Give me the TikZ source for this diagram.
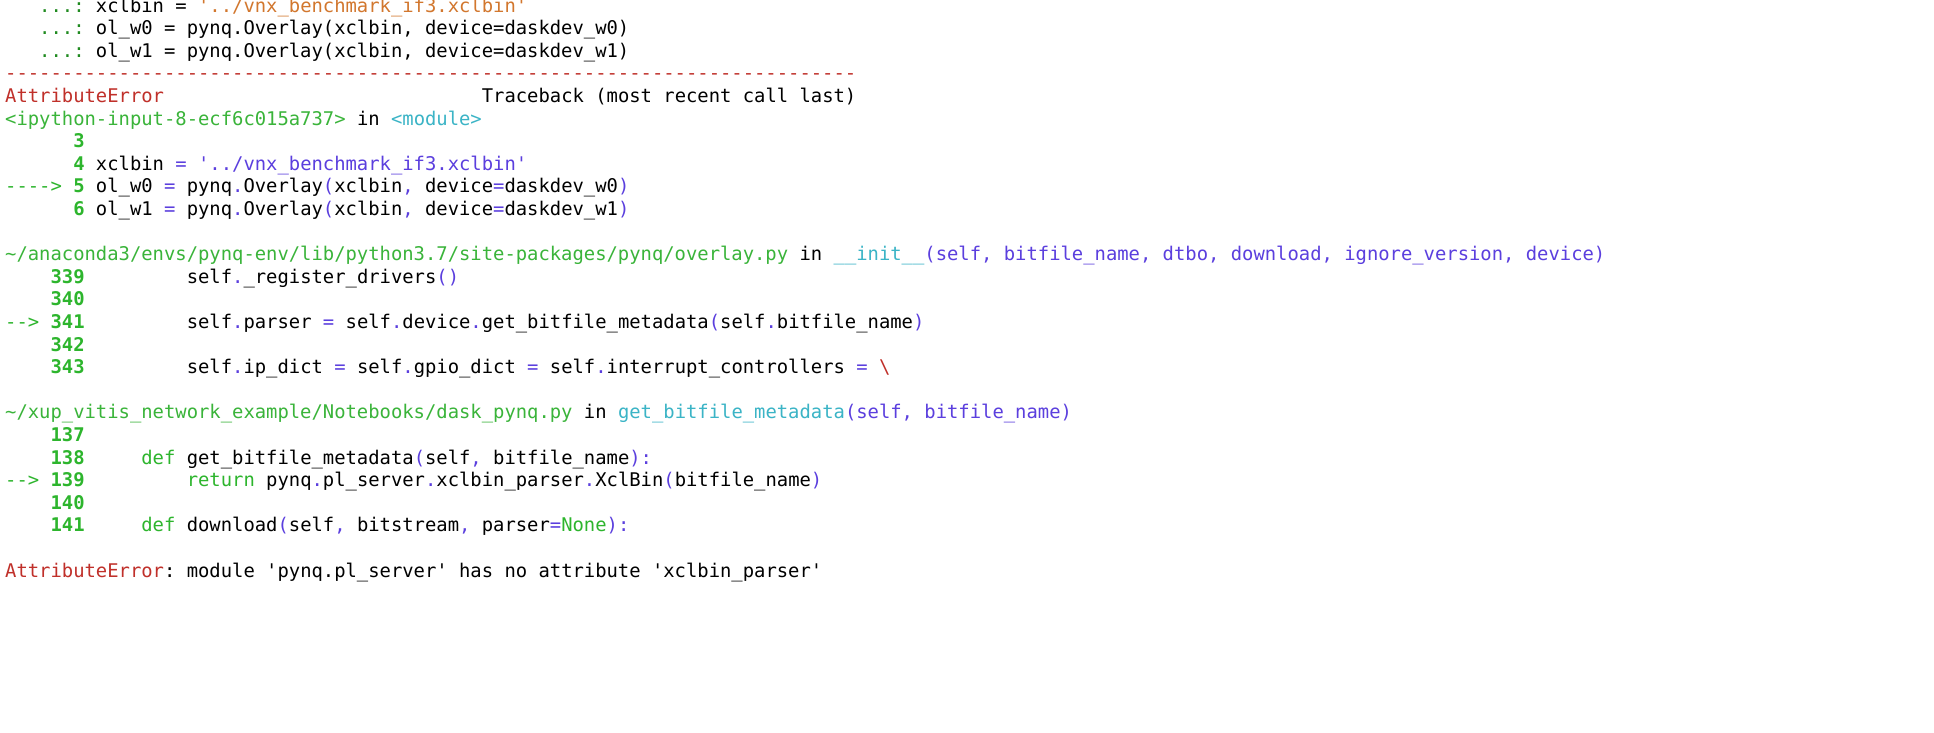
\documentclass[tikz,border=0pt]{standalone}
\usepackage{fontspec}
\setmonofont{DejaVu Sans Mono}
\definecolor{lnum}{HTML}{2DB52D}
\definecolor{dgr}{HTML}{1F8A1F}
\definecolor{fgr}{HTML}{3AB43A}
\definecolor{cy}{HTML}{3BB4C6}
\definecolor{pur}{HTML}{5B3FDE}
\definecolor{rd}{HTML}{C0302A}
\definecolor{org}{HTML}{D2772E}
\newcommand\sk[1]{\hspace*{#1\fontcharwd\font`0}}
\newcommand\Pu[1]{\textcolor{pur}{#1}}
\newcommand\Nu[1]{\textcolor{lnum}{\bfseries #1}}
\newcommand\Gr[1]{\textcolor{lnum}{#1}}
\newcommand\Fg[1]{\textcolor{fgr}{#1}}
\newcommand\Cy[1]{\textcolor{cy}{#1}}
\newcommand\Rd[1]{\textcolor{rd}{#1}}
\tikzset{tline/.style={anchor=west,inner sep=0pt,text height=14pt,text depth=4pt,font=\ttfamily\fontsize{18.85}{22.6}\selectfont}}
\begin{document}
\begin{tikzpicture}[x=1pt,y=-1pt]
\fill[white] (0,0) rectangle (1934,732);
\useasboundingbox (0,0) rectangle (1934,732);
\clip (0,0) rectangle (1934,732);
\node[tline] (l0) at (5,7) {\sk{3}\textcolor{dgr}{...:} xclbin = \textcolor{org}{'../vnx\_benchmark\_if3.xclbin'}};
\node[tline] (l1) at (5,29.6) {\sk{3}\textcolor{dgr}{...:} ol\_w0 = pynq.Overlay(xclbin, device=daskdev\_w0)};
\node[tline] (l2) at (5,52.2) {\sk{3}\textcolor{dgr}{...:} ol\_w1 = pynq.Overlay(xclbin, device=daskdev\_w1)};
\node[tline] (l3) at (5,74.8) {\Rd{---------------------------------------------------------------------------}};
\node[tline] (l4) at (5,97.4) {\Rd{AttributeError}\sk{28}Traceback (most recent call last)};
\node[tline] (l5) at (5,120) {\Fg{<ipython-input-8-ecf6c015a737>} in \Cy{<module>}};
\node[tline] (l6) at (5,142.6) {\sk{6}\Nu{3}};
\node[tline] (l7) at (5,165.2) {\sk{6}\Nu{4} xclbin \Pu{=} \Pu{'../vnx\_benchmark\_if3.xclbin'}};
\node[tline] (l8) at (5,187.8) {\Gr{---->} \Nu{5} ol\_w0 \Pu{=} pynq\Pu{.}Overlay\Pu{(}xclbin\Pu{,} device\Pu{=}daskdev\_w0\Pu{)}};
\node[tline] (l9) at (5,210.4) {\sk{6}\Nu{6} ol\_w1 \Pu{=} pynq\Pu{.}Overlay\Pu{(}xclbin\Pu{,} device\Pu{=}daskdev\_w1\Pu{)}};
\node[tline] (l11) at (5,255.6) {\Fg{\textasciitilde/anaconda3/envs/pynq-env/lib/python3.7/site-packages/pynq/overlay.py} in \Cy{\_\_init\_\_}\Pu{(self, bitfile\_name, dtbo, download, ignore\_version, device)}};
\node[tline] (l12) at (5,278.2) {\sk{4}\Nu{339}\sk{9}self\Pu{.}\_register\_drivers\Pu{()}};
\node[tline] (l13) at (5,300.8) {\sk{4}\Nu{340}};
\node[tline] (l14) at (5,323.4) {\Gr{-->} \Nu{341}\sk{9}self\Pu{.}parser \Pu{=} self\Pu{.}device\Pu{.}get\_bitfile\_metadata\Pu{(}self\Pu{.}bitfile\_name\Pu{)}};
\node[tline] (l15) at (5,346) {\sk{4}\Nu{342}};
\node[tline] (l16) at (5,368.6) {\sk{4}\Nu{343}\sk{9}self\Pu{.}ip\_dict \Pu{=} self\Pu{.}gpio\_dict \Pu{=} self\Pu{.}interrupt\_controllers \Pu{=} \Rd{\textbackslash}};
\node[tline] (l18) at (5,413.8) {\Fg{\textasciitilde/xup\_vitis\_network\_example/Notebooks/dask\_pynq.py} in \Cy{get\_bitfile\_metadata}\Pu{(self, bitfile\_name)}};
\node[tline] (l19) at (5,436.4) {\sk{4}\Nu{137}};
\node[tline] (l20) at (5,459) {\sk{4}\Nu{138}\sk{5}\Gr{def} get\_bitfile\_metadata\Pu{(}self\Pu{,} bitfile\_name\Pu{):}};
\node[tline] (l21) at (5,481.6) {\Gr{-->} \Nu{139}\sk{9}\Gr{return} pynq\Pu{.}pl\_server\Pu{.}xclbin\_parser\Pu{.}XclBin\Pu{(}bitfile\_name\Pu{)}};
\node[tline] (l22) at (5,504.2) {\sk{4}\Nu{140}};
\node[tline] (l23) at (5,526.8) {\sk{4}\Nu{141}\sk{5}\Gr{def} download\Pu{(}self\Pu{,} bitstream\Pu{,} parser\Pu{=}\Gr{None}\Pu{):}};
\node[tline] (l25) at (5,572) {\Rd{AttributeError}: module 'pynq.pl\_server' has no attribute 'xclbin\_parser'};
\end{tikzpicture}
\end{document}
